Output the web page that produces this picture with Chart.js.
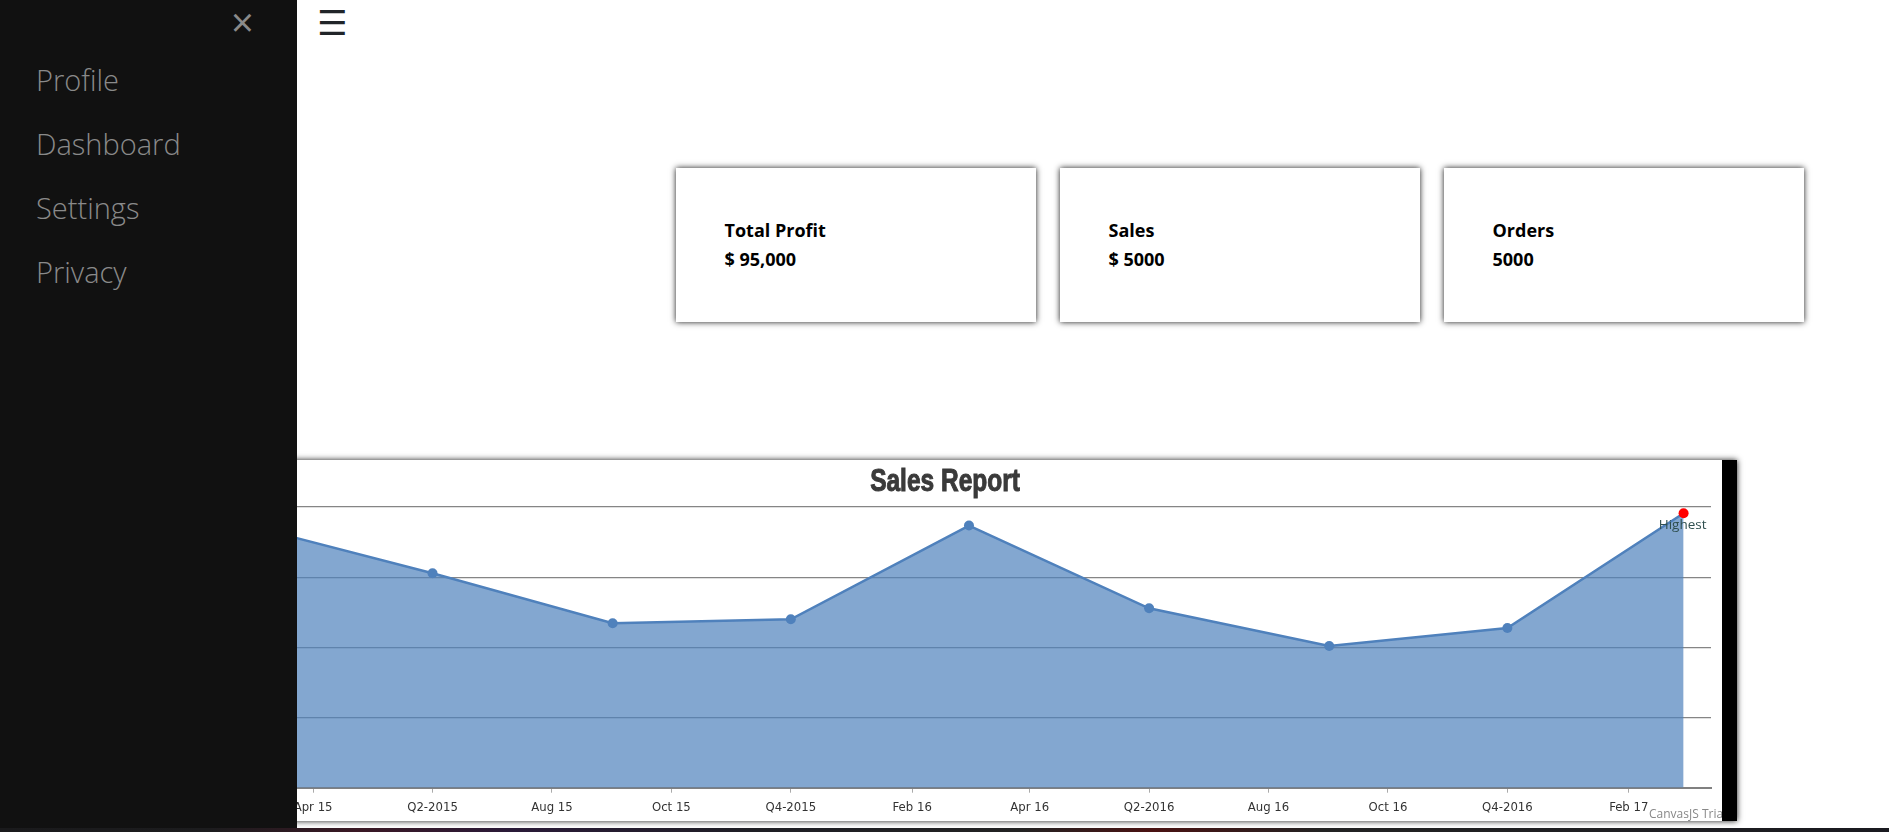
<!DOCTYPE html>
<html>
<head>
<meta charset="utf-8">
<title>Sales Report</title>
<script src="https://cdn.jsdelivr.net/npm/chart.js@4"></script>
<style>
    html, body { margin: 0; padding: 0; background: #fff; overflow: hidden; width: 1889px; height: 832px; }
    .sidenav { position: absolute; left: 0; top: 0; width: 297px; height: 828px; background: #111; z-index: 5; font-family: "Open Sans", sans-serif; font-weight: 300; color: #8a8a8a; }
    .sidenav a { position: absolute; left: 36px; font-size: 29px; line-height: 40px; }
    .closebtn { position: absolute; left: 231px; top: 0; font-size: 40px; line-height: 44px; font-weight: 400; }
    .hamburger { position: absolute; left: 317px; top: 0; font-family: "DejaVu Sans", sans-serif; font-size: 34px; line-height: 46px; color: #212529; }
    .card { position: absolute; top: 168px; width: 360px; height: 154px; background: #fff; box-shadow: 0 0 6px rgba(0,0,0,.9); font-family: "Open Sans", sans-serif; font-weight: 700; font-size: 18px; line-height: 29px; color: #000; }
    .card div { position: absolute; left: 48.5px; white-space: nowrap; }
    .chartbox { position: absolute; left: 168px; top: 460px; width: 1569px; height: 361px; background: #000; box-shadow: 0 0 6px rgba(0,0,0,.9); }
    .chartarea { position: absolute; left: 0; top: 0; width: 1554px; height: 361px; background: #fff; overflow: hidden; }
    .trial { position: absolute; left: 1481px; top: 346px; font-family: "Open Sans", sans-serif; font-size: 12px; line-height: 16px; color: #888; white-space: nowrap; }
    .strip { position: absolute; left: 0; top: 828px; width: 1889px; height: 4px; background: linear-gradient(90deg, #1a1a1c 0%, #1c1c1e 11%, #3a1824 19%, #2a1a38 27%, #1e1e24 40%, #222 54%, #4a1212 61%, #222 70%, #1a1a20 100%); }
</style>
</head>
<body>
<div class="sidenav">
    <span class="closebtn">&times;</span>
    <a style="top:60px">Profile</a>
    <a style="top:124px">Dashboard</a>
    <a style="top:188px">Settings</a>
    <a style="top:252px">Privacy</a>
</div>
<span class="hamburger">&#9776;</span>

<div class="card" style="left:676px"><div style="top:48px">Total Profit</div><div style="top:77px">$ 95,000</div></div>
<div class="card" style="left:1060px"><div style="top:48px">Sales</div><div style="top:77px">$ 5000</div></div>
<div class="card" style="left:1444px"><div style="top:48px">Orders</div><div style="top:77px">5000</div></div>

<div class="chartbox">
    <div class="chartarea">
        <canvas id="salesChart" width="1554" height="361"></canvas>
        <span class="trial">CanvasJS Trial</span>
    </div>
</div>
<div class="strip"></div>

<script>
// first point sits behind the side menu so it is a guess
const pointDates = ['2015-03-01', '2015-06-01', '2015-09-01', '2015-12-01', '2016-03-01', '2016-06-01', '2016-09-01', '2016-12-01', '2017-03-01'];
const salesValues = [93000, 76400, 58600, 60000, 93400, 63900, 50500, 56900, 97800];

const tickDates = ['2015-04-01', '2015-06-01', '2015-08-01', '2015-10-01', '2015-12-01', '2016-02-01', '2016-04-01', '2016-06-01', '2016-08-01', '2016-10-01', '2016-12-01', '2017-02-01'];
const tickLabels = ['Apr 15', 'Q2-2015', 'Aug 15', 'Oct 15', 'Q4-2015', 'Feb 16', 'Apr 16', 'Q2-2016', 'Aug 16', 'Oct 16', 'Q4-2016', 'Feb 17'];
const axisStart = '2015-02-15';
const axisEnd = '2017-03-15';

const chartTitle = 'Sales Report';
const highestValue = Math.max(...salesValues);
const highestLabel = 'Highest';

const toTime = function(d) { return Date.parse(d + 'T00:00:00Z'); };

// the title font is an Impact style one, not installed, so squeeze a bold font
const squeezedTitlePlugin = {
    id: 'squeezedTitle',
    afterDraw(chart) {
        const ctx = chart.ctx;
        ctx.save();
        ctx.translate(chart.width / 2, 31);
        ctx.scale(0.79, 1);
        ctx.font = 'bold 31px "Liberation Sans"';
        ctx.textAlign = 'center';
        ctx.textBaseline = 'alphabetic';
        ctx.fillStyle = '#3a3a3a';
        ctx.strokeStyle = '#3a3a3a';
        ctx.lineWidth = 1;
        ctx.fillText(chartTitle, 0, 0);
        ctx.strokeText(chartTitle, 0, 0);
        ctx.restore();
    }
};

const highestLabelPlugin = {
    id: 'highestLabel',
    afterDatasetsDraw(chart) {
        const i = salesValues.indexOf(highestValue);
        const pt = chart.getDatasetMeta(0).data[i];
        const ctx = chart.ctx;
        ctx.save();
        ctx.font = '13.5px "Open Sans"';
        ctx.fillStyle = '#2f4f4f';
        ctx.textAlign = 'center';
        ctx.textBaseline = 'middle';
        ctx.fillText(highestLabel, pt.x - 1, pt.y + 12);
        ctx.restore();
    }
};

const chart = new Chart(document.getElementById('salesChart'), {
    type: 'line',
    data: {
        datasets: [{
            data: pointDates.map(function(d, i) { return { x: toTime(d), y: salesValues[i] }; }),
            fill: 'origin',
            tension: 0,
            borderColor: '#4f81bc',
            borderWidth: 2.5,
            backgroundColor: 'rgba(79,129,188,0.7)',
            pointRadius: 5,
            pointBorderWidth: 0,
            pointBackgroundColor: function(c) { return c.raw && c.raw.y === highestValue ? '#ff0000' : '#4f81bc'; }
        }]
    },
    plugins: [squeezedTitlePlugin, highestLabelPlugin],
    options: {
        responsive: false,
        animation: false,
        layout: { padding: { top: 47, right: 11, bottom: 0, left: 0 } },
        plugins: {
            legend: { display: false },
            tooltip: { enabled: false }
        },
        scales: {
            x: {
                type: 'linear',
                min: toTime(axisStart),
                max: toTime(axisEnd),
                afterBuildTicks: function(axis) {
                    axis.ticks = tickDates.map(function(d) { return { value: toTime(d) }; });
                },
                afterFit: function(axis) { axis.height = 33.3; },
                grid: { display: true, drawOnChartArea: false, drawTicks: true, tickLength: 5, tickColor: '#aaa' },
                border: { display: true, color: '#808080', width: 2 },
                ticks: {
                    autoSkip: false,
                    maxRotation: 0,
                    padding: 7,
                    color: '#333',
                    font: { family: '"DejaVu Sans Condensed", "DejaVu Sans"', size: 13 },
                    callback: function(value, index) { return tickLabels[index]; }
                }
            },
            y: {
                min: 0,
                max: 100000,
                afterFit: function(axis) { axis.width = 57; },
                grid: { color: '#858585', lineWidth: 1.3, drawTicks: false },
                border: { display: false },
                ticks: { stepSize: 25000, color: '#333', font: { size: 12 } }
            }
        }
    }
});
</script>
</body>
</html>
